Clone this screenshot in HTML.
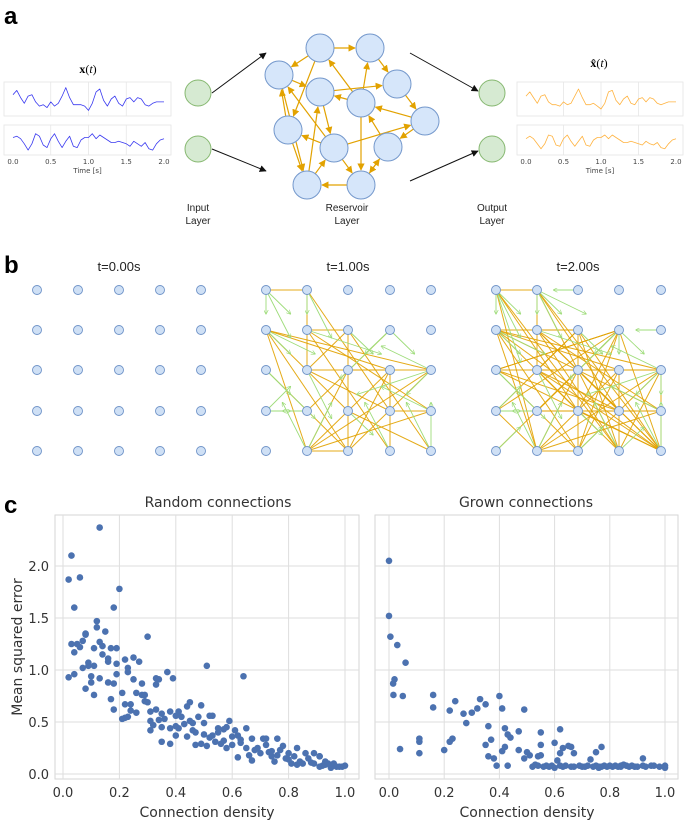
<!DOCTYPE html>
<html><head><meta charset="utf-8">
<style>
html,body{margin:0;padding:0;background:#fff;}
svg{display:block;}
.lt{font-family:"Liberation Sans",sans-serif;}
.dv{font-family:"DejaVu Sans","Liberation Sans",sans-serif;}
</style></head>
<body>
<svg id="fig" width="685" height="825" viewBox="0 0 685 825" xmlns="http://www.w3.org/2000/svg">
<defs>
<marker id="ak" viewBox="0 0 10 10" refX="9" refY="5" markerWidth="7" markerHeight="7" orient="auto"><path d="M0,0 L10,5 L0,10 z" fill="#111"/></marker>
<marker id="ao" viewBox="0 0 10 10" refX="9" refY="5" markerWidth="6" markerHeight="6" orient="auto"><path d="M0,0 L10,5 L0,10 z" fill="#e2a200"/></marker>
<marker id="ag" viewBox="0 0 10 10" refX="9" refY="5" markerWidth="5" markerHeight="5" orient="auto"><path d="M0,0 L10,5 L0,10" fill="none" stroke="#9edc7a" stroke-width="1.5"/></marker>
</defs>
<text x="4" y="24" class="lt" font-size="24" font-weight="bold">a</text>
<text x="4" y="273" class="lt" font-size="24" font-weight="bold">b</text>
<text x="4" y="513" class="lt" font-size="24" font-weight="bold">c</text>
<text x="88" y="73" text-anchor="middle" font-family="Liberation Serif,serif" font-size="12"><tspan font-weight="bold">x</tspan>(<tspan font-style="italic">t</tspan>)</text>
<text x="599" y="67" text-anchor="middle" font-family="Liberation Serif,serif" font-size="12"><tspan font-weight="bold">x̂</tspan>(<tspan font-style="italic">t</tspan>)</text>
<g class="lt" font-size="10" fill="#222" text-anchor="middle">
<text x="198" y="211">Input<tspan x="198" dy="13">Layer</tspan></text>
<text x="347" y="211">Reservoir<tspan x="347" dy="13">Layer</tspan></text>
<text x="492" y="211">Output<tspan x="492" dy="13">Layer</tspan></text>
</g>
<g class="lt" font-size="13" fill="#222" text-anchor="middle">
<text x="119" y="271">t=0.00s</text>
<text x="348" y="271">t=1.00s</text>
<text x="578" y="271">t=2.00s</text>
</g>
<g class="dv" font-size="14" fill="#333" text-anchor="middle">
<text x="218" y="507">Random connections</text>
<text x="526" y="507">Grown connections</text>
<text x="207" y="817">Connection density</text>
<text x="527" y="817">Connection density</text>
<text transform="translate(22,647) rotate(-90)">Mean squared error</text>
</g>
<g id="ga"></g><g id="gb"></g><g id="gc"></g>
</svg>
<script>
// ---- panel a signals ----
const sigTop = [0.3,0.6,0.1,-0.3,0.2,0.3,-0.2,-0.5,-0.4,-0.6,-0.2,-0.5,-0.3,0.2,0.8,0.1,-0.4,-0.4,-0.4,-0.5,-0.8,-0.3,0.5,0.7,-0.1,-0.5,0.0,0.2,-0.3,-0.5,0.0,0.1,-0.2,0.1,0.0,-0.4,-0.5,-0.3,-0.2,-0.2,-0.2];
const sigBot = [0.2,0.3,0.1,-0.3,-0.8,-0.3,0.5,0.3,-0.4,-0.6,0.1,0.5,-0.1,-0.6,-0.1,0.3,-0.5,-0.6,0.0,0.2,0.2,0.5,0.1,0.4,0.2,0.0,-0.2,-0.2,-0.1,-0.2,-0.3,-0.5,-0.1,-0.3,-0.5,-0.2,-0.7,-0.8,-0.3,0.0,0.1];
const predTop = [0.2,0.5,0.1,-0.3,0.2,0.3,-0.2,-0.4,-0.4,-0.5,-0.2,-0.4,-0.3,0.2,0.7,0.1,-0.4,-0.4,-0.3,-0.5,-0.7,-0.3,0.5,0.6,-0.1,-0.4,0.0,0.2,-0.3,-0.4,0.0,0.1,-0.2,0.1,0.0,-0.3,-0.4,-0.3,-0.2,-0.2,-0.2];
const predBot = [0.1,0.3,0.1,-0.3,-0.7,-0.3,0.4,0.3,-0.4,-0.5,0.1,0.4,-0.1,-0.5,-0.1,0.3,-0.4,-0.5,0.0,0.2,0.2,0.4,0.1,0.4,0.2,0.0,-0.2,-0.2,-0.1,-0.2,-0.3,-0.4,-0.1,-0.3,-0.4,-0.2,-0.6,-0.7,-0.3,0.0,0.1];
const timeTicks = ["0.0","0.5","1.0","1.5","2.0"];
// ---- panel c data ----
const randX = [0.13,0.03,0.02,0.06,0.20,0.04,0.18,0.12,0.12,0.15,0.30,0.03,0.05,0.06,0.07,0.08,0.08,0.04,0.13,0.14,0.11,0.17,0.19,0.14,0.16,0.16,0.25,0.22,0.27,0.09,0.09,0.11,0.19,0.23,0.23,0.51,0.07,0.02,0.04,0.10,0.13,0.19,0.37,0.64,0.39,0.33,0.34,0.25,0.16,0.18,0.10,0.33,0.28,0.08,0.11,0.26,0.28,0.29,0.21,0.17,0.29,0.30,0.24,0.22,0.18,0.24,0.26,0.31,0.33,0.21,0.22,0.23,0.31,0.32,0.31,0.35,0.36,0.34,0.38,0.40,0.41,0.42,0.44,0.45,0.49,0.35,0.38,0.41,0.40,0.40,0.35,0.38,0.45,0.46,0.48,0.46,0.44,0.47,0.50,0.49,0.52,0.53,0.50,0.51,0.53,0.54,0.55,0.57,0.58,0.59,0.56,0.58,0.60,0.60,0.61,0.62,0.62,0.63,0.65,0.65,0.67,0.66,0.67,0.68,0.70,0.71,0.72,0.72,0.73,0.74,0.76,0.75,0.77,0.78,0.80,0.80,0.82,0.83,0.83,0.85,0.86,0.87,0.89,0.91,0.91,0.89,0.91,0.93,0.94,0.95,0.96,0.98,0.99,1.00,0.55,0.63,0.69,0.76,0.79,0.84,0.88,0.92,0.97,0.93,0.81,0.74,0.57,0.52,0.47,0.43];
const randY = [2.37,2.10,1.87,1.89,1.78,1.60,1.60,1.47,1.41,1.37,1.32,1.25,1.25,1.22,1.28,1.34,1.35,1.17,1.27,1.23,1.21,1.21,1.21,1.15,1.11,1.08,1.12,1.10,1.08,1.07,1.04,1.04,1.06,1.02,0.98,1.04,1.02,0.93,0.96,0.94,0.92,0.96,0.98,0.94,0.92,0.92,0.91,0.91,0.88,0.87,0.88,0.86,0.87,0.82,0.76,0.78,0.76,0.76,0.78,0.72,0.70,0.69,0.67,0.67,0.62,0.61,0.59,0.60,0.62,0.53,0.54,0.55,0.51,0.47,0.42,0.58,0.53,0.52,0.60,0.56,0.60,0.55,0.65,0.69,0.66,0.45,0.44,0.44,0.46,0.37,0.31,0.29,0.51,0.49,0.55,0.42,0.36,0.28,0.38,0.29,0.56,0.56,0.49,0.27,0.37,0.31,0.44,0.43,0.45,0.51,0.29,0.25,0.28,0.36,0.42,0.16,0.37,0.30,0.44,0.25,0.34,0.18,0.13,0.23,0.20,0.34,0.34,0.28,0.21,0.17,0.34,0.12,0.23,0.27,0.20,0.14,0.17,0.25,0.09,0.10,0.20,0.15,0.20,0.17,0.17,0.10,0.07,0.09,0.10,0.06,0.10,0.07,0.07,0.08,0.40,0.33,0.25,0.18,0.15,0.12,0.11,0.08,0.07,0.12,0.10,0.22,0.32,0.35,0.40,0.48];
const grownX = [0,0,0.005,0.03,0.06,0.02,0.015,0.016,0.05,0.16,0.16,0.22,0.24,0.27,0.30,0.28,0.32,0.33,0.35,0.40,0.41,0.49,0.36,0.37,0.35,0.42,0.43,0.44,0.47,0.55,0.62,0.55,0.60,0.11,0.11,0.04,0.11,0.20,0.22,0.23,0.42,0.41,0.47,0.36,0.38,0.39,0.43,0.49,0.50,0.51,0.54,0.55,0.63,0.65,0.66,0.67,0.61,0.62,0.73,0.75,0.77,0.92,
0.52,0.53,0.54,0.56,0.57,0.58,0.59,0.60,0.62,0.63,0.64,0.66,0.67,0.69,0.70,0.71,0.72,0.74,0.75,0.76,0.77,0.78,0.79,0.80,0.81,0.82,0.83,0.84,0.85,0.86,0.87,0.88,0.89,0.90,0.92,0.93,0.95,0.96,0.98,1.00,1.00,0.76,0.84];
const grownY = [2.05,1.52,1.32,1.24,1.07,0.91,0.87,0.76,0.75,0.76,0.64,0.61,0.70,0.58,0.59,0.49,0.63,0.72,0.67,0.75,0.63,0.62,0.46,0.33,0.28,0.44,0.38,0.35,0.41,0.40,0.43,0.28,0.30,0.34,0.31,0.24,0.20,0.23,0.31,0.34,0.26,0.22,0.23,0.17,0.15,0.08,0.08,0.15,0.21,0.18,0.17,0.18,0.25,0.27,0.26,0.20,0.13,0.20,0.14,0.21,0.26,0.15,
0.07,0.09,0.08,0.07,0.08,0.07,0.08,0.06,0.08,0.07,0.08,0.07,0.07,0.08,0.07,0.07,0.08,0.07,0.08,0.06,0.07,0.08,0.07,0.08,0.07,0.08,0.07,0.07,0.09,0.08,0.07,0.08,0.07,0.07,0.08,0.07,0.08,0.08,0.07,0.06,0.08,0.07,0.08];
const xTicks = [0,0.2,0.4,0.6,0.8,1.0];
const yTicks = [0,0.5,1.0,1.5,2.0];

const NS = "http://www.w3.org/2000/svg";
function mk(parent, tag, attrs){ const e=document.createElementNS(NS,tag); for(const k in attrs) e.setAttribute(k,attrs[k]); parent.appendChild(e); return e; }
const ga=document.getElementById('ga'), gb=document.getElementById('gb'), gc=document.getElementById('gc');

// ---- panel a: small signal plots ----
function sigPlot(x0,x1,y0,y1,vals,color,showTicks,name){
  const r=mk(ga,'rect',{x:x0,y:y0,width:x1-x0,height:y1-y0,fill:'#fff',stroke:'#e4e4e4','stroke-width':0.8});
  
  
  const tx=t=>x0+9+t/2*(x1-x0-16);
  [0.5,1.0,1.5].forEach(t=>{ mk(ga,'line',{x1:tx(t),x2:tx(t),y1:y0,y2:y1,stroke:'#e6e6e6','stroke-width':0.8}); });
  const cy=(y0+y1)/2, amp=(y1-y0)*0.42;
  let d='';
  vals.forEach((v,i)=>{ const t=i/(vals.length-1)*2; d+=(i?'L':'M')+tx(t).toFixed(1)+','+(cy-v*amp).toFixed(1); });
  const p=mk(ga,'path',{d:d,fill:'none',stroke:color,'stroke-width':0.8,'stroke-linejoin':'round'});
  
  
  if(showTicks){
    timeTicks.forEach((s,i)=>{ const t=mk(ga,'text',{x:tx(i*0.5),y:y1+9,'font-size':7,'text-anchor':'middle',fill:'#444',class:'dv'}); t.textContent=s;
      
       });
    const tl=mk(ga,'text',{x:(x0+x1)/2,y:y1+18,'font-size':7,'text-anchor':'middle',fill:'#444',class:'dv'}); tl.textContent='Time [s]';
    
    
  }
}
sigPlot(4,171,82,116,sigTop,'#3a3af0',false,'input-signal-1');
sigPlot(4,171,125,155,sigBot,'#3a3af0',true,'input-signal-2');
sigPlot(517,683,82,116,predTop,'#ffb340',false,'output-signal-1');
sigPlot(517,683,125,155,predBot,'#ffb340',true,'output-signal-2');

// arrows
[[212,93,266,53],[212,149,266,171],[410,53,478,91],[410,181,478,151]].forEach(a=>{
  const l=mk(ga,'line',{x1:a[0],y1:a[1],x2:a[2],y2:a[3],stroke:'#111','stroke-width':1,'marker-end':'url(#ak)'});
  
  
});
const resNodes=[[320,48],[370,48],[279,75],[320,92],[397,84],[361,103],[425,121],[288,130],[334,148],[388,147],[307,185],[361,185]];
const resEdges=[[0,1],[1,4],[0,2],[2,3],[5,3],[4,6],[6,5],[6,9],[5,0],[3,4],[3,8],[7,2],[8,2],[7,10],[10,8],[11,10],[8,11],[9,11],[5,11],[8,6],[11,9],[8,7],[2,10],[0,7],[10,3],[5,1],[9,5]];
resEdges.forEach(e=>{
  const a=resNodes[e[0]], b=resNodes[e[1]]; const dx=b[0]-a[0], dy=b[1]-a[1], L=Math.hypot(dx,dy), r=14;
  const l=mk(ga,'line',{x1:a[0]+dx/L*r,y1:a[1]+dy/L*r,x2:b[0]-dx/L*(r+1),y2:b[1]-dy/L*(r+1),stroke:'#e2a200','stroke-width':1.2,'marker-end':'url(#ao)'});
  
  
});
resNodes.forEach(n=>{ const c=mk(ga,'circle',{cx:n[0],cy:n[1],r:14,fill:'#d6e6fa',stroke:'#7498cc','stroke-width':1});
  
   });
[[198,93],[198,149]].forEach(n=>{ const c=mk(ga,'circle',{cx:n[0],cy:n[1],r:13,fill:'#d6ead2',stroke:'#86b870','stroke-width':1});
  
   });
[[492,93],[492,149]].forEach(n=>{ const c=mk(ga,'circle',{cx:n[0],cy:n[1],r:13,fill:'#d6ead2',stroke:'#86b870','stroke-width':1});
  
   });

// ---- panel b: grids ----
const gridCols=[[37,78,119,160,201],[266,307,348,390,431],[496,537,578,619,661]];
const gridRows=[290,330,370,411,451];
const orange1=[[0,0,1,0],[0,1,1,4],[0,1,2,3],[0,1,3,2],[0,1,4,2],[0,1,2,4],[1,0,3,3],[1,1,2,1],[1,1,4,3],[1,1,3,4],[1,2,2,1],[1,2,4,2],[1,2,3,3],[1,4,2,4],[1,4,3,2],[1,4,4,2],[1,4,4,3],[1,4,2,2],[2,1,2,4],[2,1,4,4],[2,2,3,2],[2,4,4,2],[3,2,3,4],[3,2,2,4],[3,3,4,3],[0,2,2,4],[2,3,4,4],[1,0,1,2],[3,1,1,3]];
const green1=[[0,0,1,1],[0,0,1,2],[1,0,2,2],[0,1,1,2],[0,1,2,2],[0,2,1,3],[0,2,2,4],[0,3,1,2],[0,3,1,3],[1,1,4,2],[1,2,2,4],[2,1,3,2],[3,1,2,2],[3,1,1,3],[3,1,4,2],[4,2,2,1],[4,2,3,3],[4,2,1,3],[4,3,2,2],[4,4,3,2],[3,4,2,2],[1,4,0,2],[1,3,0,3],[2,3,3,4],[4,4,4,2],[1,0,1,1],[0,0,0,1],[1,4,2,2]];
const orange2=orange1.concat([[0,0,1,4],[0,0,2,3],[0,0,3,4],[0,1,4,3],[0,1,4,4],[0,2,4,2],[0,2,3,1],[0,2,4,4],[0,3,3,1],[0,3,4,3],[1,0,3,4],[1,0,4,4],[1,1,4,4],[1,2,4,4],[1,3,3,1],[1,3,4,3],[2,1,3,4],[2,2,4,4],[2,3,3,1],[2,4,3,1],[3,1,4,4],[3,4,4,2],[4,2,4,4],[0,2,3,3],[1,2,3,4],[0,3,1,4],[2,1,0,3],[3,1,0,2],[2,2,0,4],[1,1,3,3],[0,1,2,1]]);
const green2=green1.concat([[1,0,3,1],[1,0,2,1],[0,0,1,3],[3,1,3,2],[4,2,4,3],[2,0,1,0],[2,4,3,3],[3,4,4,3],[0,4,1,3],[4,1,3,1]]);
function drawGrid(pi, orange, green){
  const X=gridCols[pi];
  orange.forEach(e=>{ const l=mk(gb,'line',{x1:X[e[0]],y1:gridRows[e[1]],x2:X[e[2]],y2:gridRows[e[3]],stroke:'#e2a200','stroke-width':1,opacity:0.9});
    
     });
  green.forEach(e=>{ const x1=X[e[0]],y1=gridRows[e[1]],x2=X[e[2]],y2=gridRows[e[3]];
    const l=mk(gb,'line',{x1:x1,y1:y1,x2:x1+(x2-x1)*0.6,y2:y1+(y2-y1)*0.6,stroke:'#9edc7a','stroke-width':0.9,'marker-end':'url(#ag)'});
    
     });
  X.forEach(x=>gridRows.forEach(y=>{ const c=mk(gb,'circle',{cx:x,cy:y,r:4.5,fill:'#cfe0f5',stroke:'#6f93c8','stroke-width':0.9});
    
     }));
}
drawGrid(0,[],[]);
drawGrid(1,orange1,green1);
drawGrid(2,orange2,green2);

// ---- panel c: scatter plots ----
const yS=v=>774-v*104;
function scatter(bx0,bx1,xS,xs,ys,showY,name){
  const f=mk(gc,'rect',{x:bx0,y:515,width:bx1-bx0,height:264,fill:'#fff',stroke:'#d6d6d6','stroke-width':1});
  
  
  xTicks.forEach(t=>{ mk(gc,'line',{x1:xS(t),x2:xS(t),y1:515,y2:779,stroke:'#dedede','stroke-width':1});
    const tt=mk(gc,'text',{x:xS(t),y:797,'font-size':13,'text-anchor':'middle',fill:'#333',class:'dv'}); tt.textContent=t.toFixed(1);
    
     });
  yTicks.forEach(t=>{ mk(gc,'line',{x1:bx0,x2:bx1,y1:yS(t),y2:yS(t),stroke:'#dedede','stroke-width':1});
    if(showY){ const tt=mk(gc,'text',{x:bx0-6,y:yS(t)+5,'font-size':13,'text-anchor':'end',fill:'#333',class:'dv'}); tt.textContent=t.toFixed(1);
      
       } });
  xs.forEach((x,i)=>{ const c=mk(gc,'circle',{cx:xS(x),cy:yS(ys[i]),r:3.3,fill:'#4c72b0'});
    
     });
}
scatter(55,359,v=>63+v*282,randX,randY,true,'random');
scatter(375,678,v=>389+v*276,grownX,grownY,false,'grown');
</script>
</body></html>
